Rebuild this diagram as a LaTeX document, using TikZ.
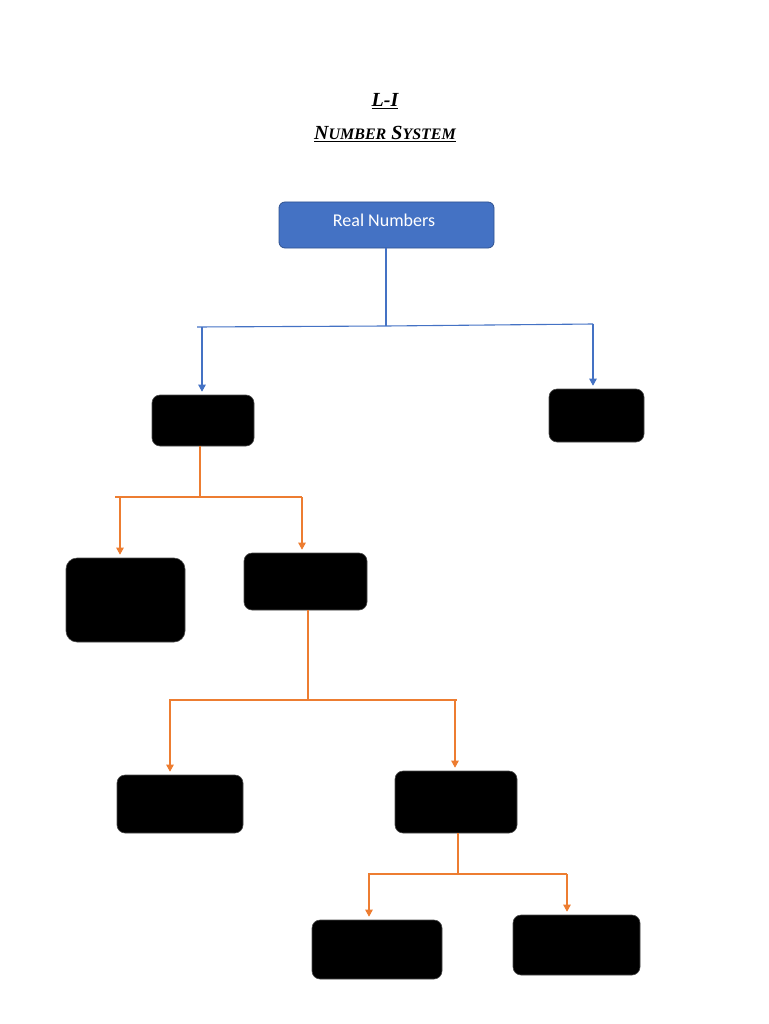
\documentclass[tikz,border=0pt]{standalone}
\usepackage{fontspec}
\setmainfont{Liberation Serif}
\newfontfamily\calib{Carlito}
\usetikzlibrary{arrows.meta}
\definecolor{bluefill}{HTML}{4472C4}
\definecolor{blueedge}{HTML}{2F528F}
\definecolor{orng}{HTML}{ED7D31}
\tikzset{
  blk/.style={draw=black!70, line width=0.6pt, fill=black, rounded corners=8pt, inner sep=0pt},
  bluebox/.style={draw=blueedge, line width=0.8pt, fill=bluefill, rounded corners=6pt, inner sep=0pt},
  bline/.style={draw=bluefill, line width=1.1pt},
  oline/.style={draw=orng, line width=1.1pt},
  barr/.style={bline, -{Triangle[width=7.5pt,length=7pt]}, shorten >=3pt},
  oarr/.style={oline, -{Triangle[width=7.5pt,length=7pt]}, shorten >=3pt},
  ttl/.style={font=\bfseries\itshape, inner sep=1pt}
}
\begin{document}
\begin{tikzpicture}[x=1pt,y=-1pt]
\useasboundingbox (0,0) rectangle (768,1024);
% titles
\node[ttl, font=\fontsize{20}{23}\selectfont\bfseries\itshape] (t1) at (385,101) {\underline{L-I}};
\node[ttl, font=\fontsize{20}{23}\selectfont\bfseries\itshape] (t2) at (385,134) {\underline{N{\fontsize{16}{18}\selectfont UMBER} S{\fontsize{16}{18}\selectfont YSTEM}}};
% boxes
\node[bluebox, minimum width=215pt, minimum height=46pt] (rn) at (386.5,225) {};
\node[text=white, font=\calib\fontsize{18}{21}\selectfont] (rnt) at (384,220) {Real Numbers};
\node[blk, minimum width=102pt, minimum height=51pt] (a) at (203,420.5) {};
\node[blk, minimum width=95pt, minimum height=53pt] (b) at (596.5,415.5) {};
\node[blk, minimum width=119pt, minimum height=84pt, rounded corners=11pt] (c) at (125.5,600) {};
\node[blk, minimum width=123pt, minimum height=57pt] (d) at (305.5,581.5) {};
\node[blk, minimum width=126pt, minimum height=58pt] (e) at (180,804) {};
\node[blk, minimum width=122pt, minimum height=62pt] (f) at (456,802) {};
\node[blk, minimum width=130pt, minimum height=59pt] (g) at (377,949.5) {};
\node[blk, minimum width=127pt, minimum height=60pt] (h) at (576.5,945) {};
% blue connectors
\coordinate (j1) at (386,326);
\coordinate (j1l) at (197,327);
\coordinate (j1la) at (202,327);
\coordinate (j1r) at (593,324);
\draw[bline] (rn.south -| j1) -- (j1);
\draw[bline] (j1l) -- (j1) -- (j1r);
\draw[barr] (j1la) -- (j1la |- a.north);
\draw[barr] (j1r) -- (j1r |- b.north);
% orange from a
\coordinate (j2) at (200,497);
\coordinate (j2l) at (115,497);
\coordinate (j2la) at (120,497);
\coordinate (j2r) at (302,497);
\draw[oline] (a.south -| j2) -- (j2);
\draw[oline] (j2l) -- (j2r);
\draw[oarr] (j2la) -- (j2la |- c.north);
\draw[oarr] (j2r) -- (j2r |- d.north);
% orange from d
\coordinate (j3) at (308,700);
\coordinate (j3l) at (169,700);
\coordinate (j3la) at (170,700);
\coordinate (j3r) at (457,700);
\coordinate (j3ra) at (455,700);
\draw[oline] (d.south -| j3) -- (j3);
\draw[oline] (j3l) -- (j3r);
\draw[oarr] (j3la) -- (j3la |- e.north);
\draw[oarr] (j3ra) -- (j3ra |- f.north);
% orange from f
\coordinate (j4) at (458,873);
\coordinate (j4l) at (368,874);
\coordinate (j4la) at (369,874);
\coordinate (j4r) at (567,874);
\draw[oline] (f.south -| j4) -- (j4);
\draw[oline] (j4l) -- (j4r);
\draw[oarr] (j4la) -- (j4la |- g.north);
\draw[oarr] (j4r) -- (j4r |- h.north);
\end{tikzpicture}
\end{document}
